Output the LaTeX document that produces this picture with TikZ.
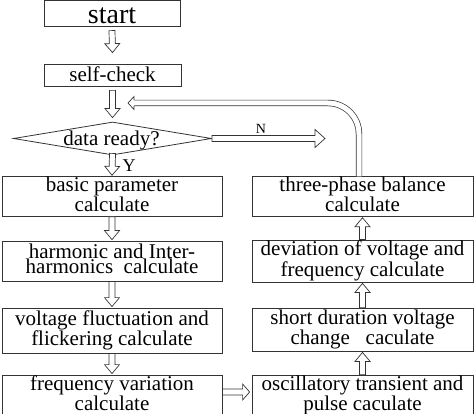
\documentclass[tikz,border=0pt]{standalone}
\usepackage{fontspec}
\setmainfont{Liberation Serif}
\usetikzlibrary{calc,shapes.geometric}
\newcommand\dn{\rule[-5pt]{0pt}{5pt}}
\def\hw{3pt}\def\hh{7.5pt}\def\hl{9pt}
\newcommand\harrow[2]{%
  \path #1 coordinate (ha) #2 coordinate (hb);
  \coordinate (hc) at ($(hb)!\hl!(ha)$);
  \draw[harrowsty] ($(ha)!\hw!90:(hb)$) -- ($(hc)!\hw!90:(hb)$) -- ($(hc)!\hh!90:(hb)$)
    -- (hb) -- ($(hc)!\hh!-90:(hb)$) -- ($(hc)!\hw!-90:(hb)$) -- ($(ha)!\hw!-90:(hb)$) -- cycle;}
\begin{document}
\begin{tikzpicture}[x=1pt,y=-1pt,
  box/.style={draw=black!80, line width=0.8pt, inner sep=0pt, align=center,
    font=\fontsize{21}{15.5}\selectfont},
  harrowsty/.style={draw=black!80, line width=0.7pt, fill=white, line join=miter},
  loopsty/.style={draw=black!80, line width=0.7pt, double=white, double distance=5pt},
  lbl/.style={inner sep=0pt}]
\useasboundingbox (0,0) rectangle (474,414);
% boxes
\node[box, minimum width=136pt, minimum height=26pt, font=\fontsize{28}{28}\selectfont] (start) at (112,13.2) {start\rule{0pt}{20pt}};
\node[box, minimum width=137pt, minimum height=22pt] (self) at (112.5,75) {self-check\rule[-2.3pt]{0pt}{2.3pt}};
\node[draw=black!80, line width=0.8pt, diamond, inner sep=0pt, minimum width=198pt, minimum height=33pt] (dia) at (112.5,138.5) {};
\node[lbl, font=\fontsize{21}{21}\selectfont] (dlab) at (111.5,140.2) {data ready?};
\node[box, minimum width=220pt, minimum height=35pt] (basic) at (112,196.5) {basic parameter\\calculate\dn};
\node[box, minimum width=220pt, minimum height=40pt] (harm) at (112,261) {harmonic and Inter-\\harmonics\ \ calculate\dn};
\node[box, minimum width=220pt, minimum height=45pt] (volt) at (112,330.5) {voltage fluctuation and\\flickering calculate\dn};
\node[box, minimum width=220pt, minimum height=42pt] (freq) at (112,396) {frequency variation\\calculate\dn};
\node[box, minimum width=221pt, minimum height=35pt] (three) at (362.5,196.5) {three-phase balance\\calculate\dn};
\node[box, minimum width=221pt, minimum height=42pt] (dev) at (362.5,261) {deviation of voltage and\\frequency calculate\dn};
\node[box, minimum width=221pt, minimum height=43pt] (short) at (362.5,329.5) {short duration voltage\\change\ \ \ caculate\dn};
\node[box, minimum width=221pt, minimum height=42pt] (osc) at (362.5,396) {oscillatory transient and\\pulse caculate\dn};
% labels
\node[lbl, font=\fontsize{14}{14}\selectfont] (nlab) at (261,129.4) {N};
\node[lbl, font=\fontsize{18}{18}\selectfont] (ylab) at (129,166) {Y};
% arrows
\harrow{([yshift=-4pt]start.south)}{([yshift=11pt]self.north)}
\harrow{([yshift=-4pt]self.south)}{([yshift=4pt]dia.north)}
\harrow{([yshift=2pt]dia.south)}{([yshift=1pt]basic.north)}
\harrow{(basic.south)}{([yshift=1pt]harm.north)}
\harrow{(harm.south)}{([yshift=1pt]volt.north)}
\harrow{(volt.south)}{([yshift=1pt]freq.north)}
{\def\hh{8pt}\def\hl{7pt}\harrow{([yshift=4pt]freq.east)}{([xshift=-2pt,yshift=4pt]osc.west)}}
\harrow{(osc.north)}{([yshift=-1pt]short.south)}
\harrow{(short.north)}{([yshift=-1pt]dev.south)}
\harrow{(dev.north)}{([yshift=-1pt]three.south)}
\coordinate (nend) at (325,138.5);
{\def\hh{9pt}\def\hl{10pt}\harrow{(dia.east)}{(nend)}}
% return loop
\coordinate (ret) at (128,103);
\draw[loopsty, rounded corners=31pt] ([xshift=-3.5pt]three.north) |- ([xshift=6pt]ret);
\filldraw[harrowsty] ([shift={(6,-2.9)}]ret) -- ([shift={(6,-6.5)}]ret) -- (ret)
  -- ([shift={(6,6.5)}]ret) -- ([shift={(6,2.9)}]ret);
\end{tikzpicture}
\end{document}
